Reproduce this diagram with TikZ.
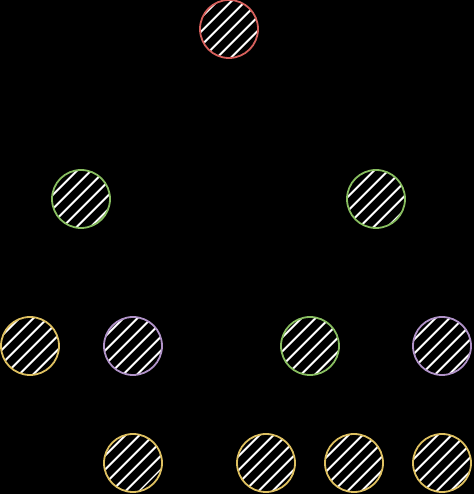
\documentclass[tikz,border=0pt]{standalone}
\usetikzlibrary{patterns.meta}
\definecolor{cred}{RGB}{214,96,92}
\definecolor{cgreen}{RGB}{136,190,96}
\definecolor{cyellow}{RGB}{222,192,96}
\definecolor{cpurple}{RGB}{176,146,200}
\tikzset{
  tnode/.style={circle, draw=#1, line width=1.8pt, minimum size=58pt, inner sep=0pt,
    pattern={Lines[angle=45, distance=10.5pt, line width=2.2pt]}, pattern color=white},
}
\begin{document}
\begin{tikzpicture}[x=1pt,y=1pt]
\fill[black] (0,0) rectangle (474,494);
\useasboundingbox (0,0) rectangle (474,494);
\node[tnode=cred] (r) at (229,465) {};
\node[tnode=cgreen] (a) at (81,295) {};
\node[tnode=cgreen] (b) at (376,295) {};
\node[tnode=cyellow] (a1) at (30,148) {};
\node[tnode=cpurple] (a2) at (133,148) {};
\node[tnode=cgreen] (b1) at (310,148) {};
\node[tnode=cpurple] (b2) at (442,148) {};
\node[tnode=cyellow] (c1) at (133,31) {};
\node[tnode=cyellow] (c2) at (266,31) {};
\node[tnode=cyellow] (c3) at (354,31) {};
\node[tnode=cyellow] (c4) at (442,31) {};
\end{tikzpicture}
\end{document}
